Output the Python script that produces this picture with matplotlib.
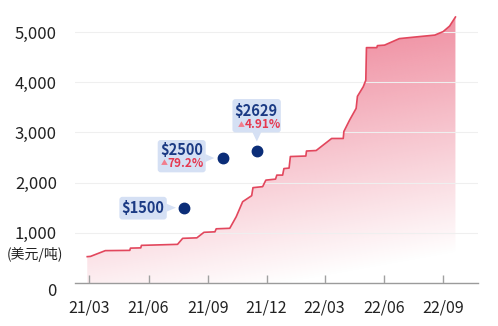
import numpy as np
import pandas as pd
import matplotlib
matplotlib.use('Agg')
import matplotlib.pyplot as plt
import matplotlib.dates as mdates
import matplotlib.transforms as mtransforms
from matplotlib.patches import FancyBboxPatch, Polygon

plt.rcParams['font.family'] = ['Noto Sans CJK SC', 'DejaVu Sans']

# price series (USD / ton)
dates = ['2021-02-26', '2021-03-03', '2021-03-26', '2021-05-03', '2021-05-04',
         '2021-05-20', '2021-05-21', '2021-07-16', '2021-07-24', '2021-08-15',
         '2021-08-26', '2021-09-12', '2021-09-14', '2021-10-05', '2021-10-15',
         '2021-10-17', '2021-10-25', '2021-11-08', '2021-11-10', '2021-11-25',
         '2021-11-30', '2021-12-15', '2021-12-17', '2021-12-26', '2021-12-28',
         '2022-01-05', '2022-01-07', '2022-01-31', '2022-02-01', '2022-02-16',
         '2022-03-12', '2022-03-30', '2022-03-31', '2022-04-09', '2022-04-19',
         '2022-04-21', '2022-04-30', '2022-05-04', '2022-05-05', '2022-05-21',
         '2022-05-22', '2022-06-02', '2022-06-25', '2022-07-26', '2022-08-19',
         '2022-09-01', '2022-09-11', '2022-09-20']
prices = [525, 530, 645, 650, 695, 700, 750, 770, 890, 900,
          1010, 1020, 1080, 1090, 1320, 1380, 1620, 1740, 1900, 1920,
          2050, 2070, 2150, 2150, 2280, 2290, 2520, 2530, 2630, 2640,
          2880, 2880, 3020, 3250, 3480, 3720, 3910, 4040, 4690, 4690,
          4730, 4740, 4870, 4910, 4940, 5010, 5120, 5300]

tick_dates = ['2021-03-01', '2021-06-01', '2021-09-01', '2021-12-01',
              '2022-03-01', '2022-06-01', '2022-09-01']
tick_labels = ['21/03', '21/06', '21/09', '21/12', '22/03', '22/06', '22/09']
y_ticks = [0, 1000, 2000, 3000, 4000, 5000]
y_labels = ['', '1,000', '2,000', '3,000', '4,000', '5,000']

# callouts
call_dates = ['2021-07-26', '2021-09-25', '2021-11-16']
call_prices = [1500, 2500, 2629]
call_titles = ['$1500', '$2500', '$2629']
call_changes = ['', '79.2%', '4.91%']

navy = '#1b3a84'
dot_col = '#0b2d78'
red = '#e53950'
box_col = '#d5e0f4'
line_col = '#e2475d'

x = mdates.date2num(pd.to_datetime(dates))
xt = mdates.date2num(pd.to_datetime(tick_dates))
cx = mdates.date2num(pd.to_datetime(call_dates))

fig = plt.figure(figsize=(4.98, 3.26), dpi=100)
ax = fig.add_axes([75 / 498, 43 / 326, 403 / 498, 271 / 326])

# gradient under the line
poly = ax.fill_between(x, prices, 0, color='none', lw=0)
gx, gy = np.meshgrid(np.linspace(0, 1, 200), np.linspace(0, 1, 200))
inten = np.clip(gy * 5400 / 5300 - 0.25 * gx + 0.14, 0, 1)
rgba = np.zeros((200, 200, 4))
rgba[..., 0] = 238 / 255
rgba[..., 1] = 132 / 255
rgba[..., 2] = 152 / 255
rgba[..., 3] = inten
img = ax.imshow(rgba, extent=[x[0], x[-1], 0, 5400], origin='lower',
                aspect='auto', zorder=1, interpolation='bilinear')
img.set_clip_path(poly.get_paths()[0], transform=ax.transData)

ax.plot(x, prices, color=line_col, lw=1.2, zorder=3)

ax.set_xlim(mdates.date2num(pd.Timestamp('2021-02-07')),
            mdates.date2num(pd.Timestamp('2022-10-25')))
ax.set_ylim(0, 5400)

ax.set_yticks(y_ticks)
ax.set_yticklabels(y_labels)
ax.set_xticks(xt)
ax.set_xticklabels(tick_labels)
ax.yaxis.grid(True, color='#efefef', lw=0.8)
ax.tick_params(axis='y', length=0, pad=13, labelsize=12, labelcolor='#222222')
ax.tick_params(axis='x', direction='in', length=6, width=1, color='#a0a0a0',
               pad=12, labelsize=11.5, labelcolor='#222222')
for s in ['left', 'top', 'right']:
    ax.spines[s].set_visible(False)
ax.spines['bottom'].set_color('#9b9b9b')
ax.spines['bottom'].set_linewidth(1)

fig.text(57 / 498, 1 - 291 / 326, '0', ha='right', va='center',
         fontsize=12, color='#222222')
fig.text(63 / 498, 1 - 254 / 326, '(美元/吨)', ha='right', va='center',
         fontsize=10, color='#222222')

# dots
ax.plot(cx, call_prices, 'o', ms=7.5, color=dot_col, zorder=6)


def at(i):
    # pixel offsets (dpi 100 -> 1/100 inch) around callout point i
    return fig.dpi_scale_trans + mtransforms.ScaledTranslation(
        cx[i], call_prices[i], ax.transData)


# box geometry in pixel offsets from the dot: (left, bottom, w, h), pointer
boxes = [(-64.6, -11.8, 47.4, 22.7), (-65.6, -14.8, 48, 32.3), (-24.4, 18.6, 48.4, 33.4)]
pointers = [[(-17.5, -4), (-17.5, 4), (-8, 0)],
            [(-18, -4.5), (-18, 3.5), (-9, -0.5)],
            [(-4.5, 19), (4.5, 19), (0, 9.5)]]
title_off = [(-41.2, 0), (-42, 7.8), (-0.7, 40.3)]
change_off = [None, (-55.5, -5.9), (-12, 26.4)]   # left edge of the % text
arrow_off = [None, (-59.5, -5.9), (-16, 26.4)]

for i in range(len(call_titles)):
    t = at(i)
    l, b, w, h = boxes[i]
    ax.add_patch(FancyBboxPatch((l / 100, b / 100), w / 100, h / 100,
                                boxstyle='round,pad=0,rounding_size=0.03',
                                fc=box_col, ec='none', transform=t, zorder=5,
                                clip_on=False))
    ax.add_patch(Polygon([(px / 100, py / 100) for px, py in pointers[i]],
                         closed=True, fc=box_col, ec='none', transform=t,
                         zorder=5, clip_on=False))
    tx, ty = title_off[i]
    ax.text(tx / 100, ty / 100, call_titles[i], transform=t, ha='center',
            va='center', fontsize=10.5, fontweight='bold', color=navy, zorder=7)
    if call_changes[i]:
        qx, qy = change_off[i]
        ax.text(qx / 100, qy / 100, call_changes[i], transform=t, ha='left',
                va='center', fontsize=8.5, fontweight='bold', color=red, zorder=7)
        ax_, ay_ = arrow_off[i]
        ax.text(ax_ / 100, ay_ / 100, '▲', transform=t, ha='center',
                va='center', fontsize=5, color='#f27d8d', zorder=7)

fig.savefig('out.png', dpi=100)
